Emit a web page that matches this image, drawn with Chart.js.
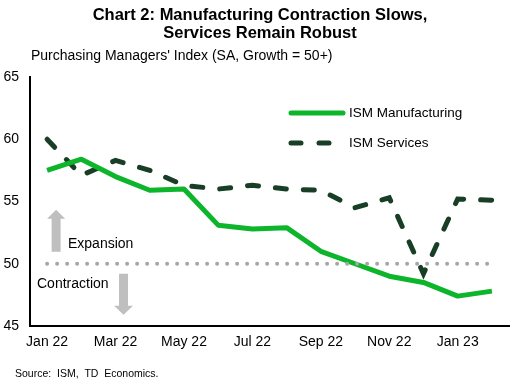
<!DOCTYPE html>
<html>
<head>
<meta charset="utf-8">
<script src="https://cdn.jsdelivr.net/npm/chart.js@4.4.0/dist/chart.umd.min.js"></script>
<style>
  html, body { margin: 0; padding: 0; background: #fff; }
  #wrap { width: 517px; height: 385px; }
</style>
</head>
<body>
<div id="wrap"><canvas id="pmiChart" width="517" height="385"></canvas></div>
<script>
const months = ['Jan 22', 'Feb 22', 'Mar 22', 'Apr 22', 'May 22', 'Jun 22', 'Jul 22',
                'Aug 22', 'Sep 22', 'Oct 22', 'Nov 22', 'Dec 22', 'Jan 23', 'Feb 23'];
const manufacturing = [57.5, 58.4, 57.0, 55.9, 56.0, 53.1, 52.8, 52.9, 51.0, 50.0, 49.0, 48.5, 47.4, 47.8];
const services = [60.0, 57.1, 58.3, 57.5, 56.3, 56.0, 56.3, 56.0, 55.9, 54.5, 55.3, 49.2, 55.2, 55.1];
const threshold = months.map(() => 50);
const yTicks = [45, 50, 55, 60, 65];

const FONT = 'Liberation Sans, Arial, sans-serif';
const GREEN = '#0db52b';
const DARK = '#183f25';
const GREY = '#bfbfbf';

// title, subtitle, legend, arrows and source note
const decorations = {
    id: 'decorations',
    afterDraw(chart) {
        const c = chart.ctx;
        const x = chart.scales.x;
        const y = chart.scales.y;
        c.save();
        c.fillStyle = '#000';
        c.textBaseline = 'middle';

        c.font = 'bold 16.5px ' + FONT;
        c.textAlign = 'center';
        c.fillText('Chart 2: Manufacturing Contraction Slows,', 260, 15);
        c.fillText('Services Remain Robust', 260, 33);

        c.textAlign = 'left';
        c.font = '14px ' + FONT;
        c.fillText("Purchasing Managers' Index (SA, Growth = 50+)", 31, 56);

        // legend
        c.lineWidth = 5;
        c.lineCap = 'round';
        c.strokeStyle = GREEN;
        c.beginPath(); c.moveTo(291, 113); c.lineTo(343, 113); c.stroke();
        c.strokeStyle = DARK;
        c.setLineDash([10, 18]);
        c.beginPath(); c.moveTo(291, 143); c.lineTo(343, 143); c.stroke();
        c.setLineDash([]);
        c.font = '13.5px ' + FONT;
        c.fillText('ISM Manufacturing', 349, 113);
        c.fillText('ISM Services', 349, 143);

        // expansion / contraction arrows
        const y50 = y.getPixelForValue(50);
        const ux = x.getPixelForValue(0) + 9;
        c.fillStyle = GREY;
        c.beginPath();
        c.moveTo(ux, y50 - 54);
        c.lineTo(ux + 9, y50 - 45);
        c.lineTo(ux + 4.5, y50 - 45);
        c.lineTo(ux + 4.5, y50 - 12);
        c.lineTo(ux - 4.5, y50 - 12);
        c.lineTo(ux - 4.5, y50 - 45);
        c.lineTo(ux - 9, y50 - 45);
        c.closePath();
        c.fill();

        const dx = x.getPixelForValue(2) + 8;
        c.beginPath();
        c.moveTo(dx, y50 + 51);
        c.lineTo(dx + 9.5, y50 + 42);
        c.lineTo(dx + 4.5, y50 + 42);
        c.lineTo(dx + 4.5, y50 + 10);
        c.lineTo(dx - 4.5, y50 + 10);
        c.lineTo(dx - 4.5, y50 + 42);
        c.lineTo(dx - 9.5, y50 + 42);
        c.closePath();
        c.fill();

        c.fillStyle = '#000';
        c.font = '14px ' + FONT;
        c.fillText('Expansion', 68, y50 - 20);
        c.fillText('Contraction', 37, y50 + 20);

        c.font = '10.5px ' + FONT;
        c.fillText('Source:  ISM,  TD  Economics.', 15, 374);
        c.restore();
    }
};

new Chart(document.getElementById('pmiChart'), {
    type: 'line',
    data: {
        labels: months,
        datasets: [
            {
                label: 'Growth threshold',
                data: threshold,
                borderColor: '#a6a6a6',
                borderWidth: 4,
                borderDash: [0, 10],
                borderCapStyle: 'round',
                pointRadius: 0,
                fill: false
            },
            {
                label: 'ISM Manufacturing',
                data: manufacturing,
                borderColor: GREEN,
                borderWidth: 5,
                borderJoinStyle: 'round',
                pointRadius: 0,
                tension: 0,
                fill: false
            },
            {
                label: 'ISM Services',
                data: services,
                borderColor: DARK,
                borderWidth: 5,
                borderDash: [11, 17],
                borderCapStyle: 'round',
                pointRadius: 0,
                tension: 0,
                fill: false
            }
        ]
    },
    options: {
        responsive: false,
        animation: false,
        layout: { padding: { top: 77, right: 8, bottom: 0, left: 0 } },
        plugins: {
            legend: { display: false },
            tooltip: { enabled: false }
        },
        scales: {
            x: {
                offset: true,
                grid: { display: false, drawTicks: false },
                border: { color: '#000', width: 2 },
                afterFit: s => { s.height = 59; },
                ticks: {
                    autoSkip: false,
                    maxRotation: 0,
                    padding: 8,
                    color: '#000',
                    font: { family: FONT, size: 14 },
                    callback: (v, i) => (i % 2 === 0 ? months[i] : '')
                }
            },
            y: {
                min: 45,
                max: 65,
                afterFit: s => { s.width = 30; },
                afterBuildTicks: s => { s.ticks = yTicks.map(v => ({ value: v })); },
                grid: { display: false, drawTicks: false },
                border: { color: '#000', width: 2 },
                ticks: {
                    padding: 11,
                    color: '#000',
                    font: { family: FONT, size: 14 }
                }
            }
        }
    },
    plugins: [decorations]
});
</script>
</body>
</html>
